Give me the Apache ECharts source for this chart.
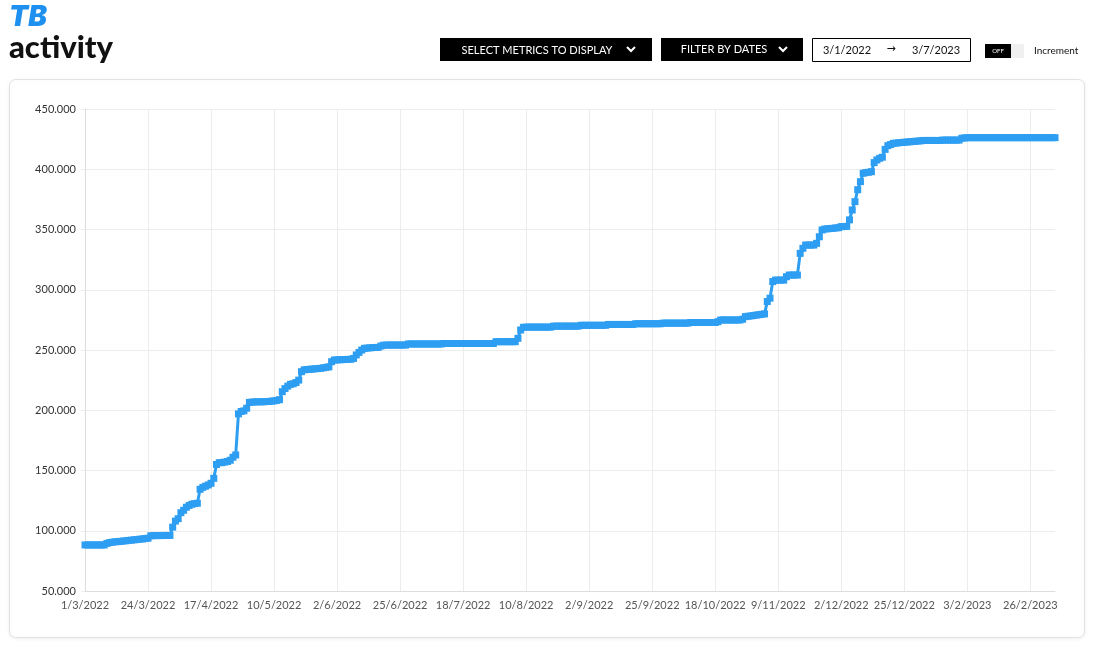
<!DOCTYPE html>
<html>
<head>
<meta charset="utf-8">
<script src="https://cdn.jsdelivr.net/npm/echarts@6/dist/echarts.min.js"></script>
<style>
html,body{margin:0;padding:0;background:#fff;}
#c{width:1094px;height:648px;}
</style>
</head>
<body>
<div id="c"></div>
<script>
// ---- DATA ----
// Category dates (D/M/YYYY): daily from 1/3/2022 to 7/3/2023, as exported by the source
const startDate = [2022, 3, 1];
const endDate = [2023, 3, 7];
const skippedDates = ['27/3/2022','1/1/2023','2/1/2023','3/1/2023','4/1/2023','5/1/2023','6/1/2023','7/1/2023','8/1/2023','9/1/2023','10/1/2023','11/1/2023','12/1/2023','13/1/2023','14/1/2023','15/1/2023','16/1/2023','17/1/2023'];
const repeatedDates = ['30/10/2022'];

const tickLabels = ['1/3/2022','24/3/2022','17/4/2022','10/5/2022','2/6/2022','25/6/2022','18/7/2022','10/8/2022','2/9/2022','25/9/2022','18/10/2022','9/11/2022','2/12/2022','25/12/2022','3/2/2023','26/2/2023'];

const activity = [
88200,88200,88200,88200,88200,88200,88200,88200,
89500,90200,90500,
90800,91000,91200,91500,91700,92000,92200,92500,92700,93000,93200,93500,93800,
95800,95900,96000,96000,96000,96100,96100,96100,
103000,108000,110000,115000,117000,119500,121000,122000,122500,122800,
134400,136000,137000,138000,139400,143500,155000,156500,156500,157000,157500,158500,161000,162900,
197000,199000,199500,201700,206500,206800,206900,207000,207000,207000,207200,207300,207500,
207800,208200,208800,215400,218000,220000,221500,222000,223000,225000,232000,233500,
233800,234000,234200,234400,234600,234800,235200,235600,236000,
240300,241700,241800,241900,242000,242100,242200,242300,243000,
245900,248000,250000,251400,251600,251800,252000,252100,252200,253300,254000,
254100,254100,254100,254100,254100,254100,254100,254100,
255000,255000,255000,255000,255000,255000,255000,255000,255000,255000,255000,255000,255000,
255400,255400,255400,255400,255400,255400,255400,255400,255400,255400,255400,255400,255400,255400,255400,255400,255400,255400,255400,
256900,256900,256900,256900,256900,256900,256900,256900,
259700,266600,268800,
269000,269000,269000,269000,269000,269000,269000,269000,269000,269000,
269800,269800,269800,269800,269800,269800,269800,269800,269800,269800,
270500,270500,270500,270500,270500,270500,270500,270500,270500,270500,
271200,271200,271200,271200,271200,271200,271200,271200,271200,271200,
271800,271800,271800,271800,271800,271800,271800,271800,271800,271800,
272300,272300,272300,272300,272300,272300,272300,272300,272300,272300,
272800,272800,272800,272800,272800,272800,272800,272800,272800,272800,
273500,
274900,274900,274900,274900,274900,274900,274900,274900,
275500,277700,278000,278300,278600,279000,279300,279600,280000,
290200,293000,306800,
308000,308000,308000,308000,
310800,
312200,312200,312200,312200,
330200,334400,337100,337100,337100,337100,338500,344000,349600,
350400,350600,350800,351000,351300,351500,352400,352400,352600,
358000,366200,373100,383000,389700,396700,397200,397500,398000,
405500,407700,409100,410000,416500,419600,420500,
421500,421700,422000,422200,422400,422600,422800,423000,423200,423400,423600,
423900,423900,423900,423900,423900,423900,423900,
424200,424200,424200,424200,424200,424200,424200,
425700,426000,
426200,426200,426200,426200,426200,426200,426200,426200,426200,426200,426200,
426200,426200,426200,426200,426200,426200,426200,426200,426200,426200,426200,
426200,426200,426200,426200,426200,426200,426200,426200,426200,426200,426200
];

const yTicks = {min: 50000, max: 450000, interval: 50000};

// ---- build categories ----
function fmt(d){return d.getUTCDate()+'/'+(d.getUTCMonth()+1)+'/'+d.getUTCFullYear();}
const categories = [];
{
  let d = new Date(Date.UTC(startDate[0], startDate[1]-1, startDate[2]));
  const end = new Date(Date.UTC(endDate[0], endDate[1]-1, endDate[2]));
  while (d <= end) {
    const s = fmt(d);
    if (skippedDates.indexOf(s) < 0) {
      categories.push(s);
      if (repeatedDates.indexOf(s) >= 0) categories.push(s);
    }
    d = new Date(d.getTime() + 86400000);
  }
}

function thousands(v){return String(v).replace(/\B(?=(\d{3})+(?!\d))/g,'.');}

const chart = echarts.init(document.getElementById('c'), null, {renderer:'canvas'});
const BLUE = '#2d9ef2';
const F = 'Lato, "Open Sans", sans-serif';

function chevron(x, y){
  return {type:'polyline', shape:{points:[[x-4,y-2],[x,y+2],[x+4,y-2]]}, style:{stroke:'#fff', lineWidth:2, fill:null}, z:5};
}

chart.setOption({
  animation:false,
  backgroundColor:'#fff',
  graphic:[
    {type:'rect', z:-10, shape:{x:9.5,y:79.5,width:1075,height:558,r:6}, style:{fill:'#fff', stroke:'#e2e2e2', lineWidth:1, shadowBlur:4, shadowColor:'rgba(0,0,0,0.06)', shadowOffsetY:1}},
    {type:'text', z:5, x:9, y:4, style:{text:'TB', font:'italic 900 28px Inter, Lato, sans-serif', fill:'#1e90f0'}},
    {type:'text', z:5, x:9, y:32, style:{text:'activity', font:'900 31px Lato, sans-serif', fill:'#111'}},
    {type:'rect', z:4, shape:{x:440,y:38,width:212,height:23}, style:{fill:'#000'}},
    {type:'text', z:5, x:537, y:50, style:{text:'SELECT METRICS TO DISPLAY', font:'11px '+F, fill:'#fff', align:'center', verticalAlign:'middle'}},
    chevron(631, 49),
    {type:'rect', z:4, shape:{x:661,y:38,width:142,height:23}, style:{fill:'#000'}},
    {type:'text', z:5, x:724, y:49, style:{text:'FILTER BY DATES', font:'11px '+F, fill:'#fff', align:'center', verticalAlign:'middle'}},
    chevron(783, 49),
    {type:'rect', z:4, shape:{x:812.5,y:38.5,width:158,height:23}, style:{fill:'#fff', stroke:'#000', lineWidth:1}},
    {type:'text', z:5, x:847, y:50, style:{text:'3/1/2022', font:'11px '+F, fill:'#111', align:'center', verticalAlign:'middle'}},
    {type:'text', z:5, x:891, y:49, style:{text:'→', font:'11px "DejaVu Sans", sans-serif', fill:'#111', align:'center', verticalAlign:'middle'}},
    {type:'text', z:5, x:936, y:50, style:{text:'3/7/2023', font:'11px '+F, fill:'#111', align:'center', verticalAlign:'middle'}},
    {type:'rect', z:4, shape:{x:985,y:44,width:26,height:14}, style:{fill:'#000'}},
    {type:'rect', z:4, shape:{x:1011,y:44,width:13,height:14}, style:{fill:'#f0f0f0'}},
    {type:'text', z:5, x:998, y:51, style:{text:'OFF', font:'6px '+F, fill:'#fff', align:'center', verticalAlign:'middle'}},
    {type:'text', z:5, x:1034, y:51, style:{text:'Increment', font:'10px '+F, fill:'#111', align:'left', verticalAlign:'middle'}}
  ],
  grid:{left:85, right:39, top:109, bottom:57, containLabel:false},
  xAxis:{
    type:'category',
    data:categories,
    boundaryGap:false,
    axisLine:{lineStyle:{color:'#dddddd'}},
    axisTick:{show:false},
    axisLabel:{interval:22, color:'#555', fontSize:11, fontFamily:F, margin:9},
    splitLine:{show:true, interval:22, lineStyle:{color:'#ececec'}}
  },
  yAxis:{
    type:'value',
    min:yTicks.min, max:yTicks.max, interval:yTicks.interval,
    axisLine:{show:true, lineStyle:{color:'#dddddd'}},
    axisTick:{show:true, length:4, lineStyle:{color:'#eeeeee'}},
    axisLabel:{color:'#333', fontSize:11, fontFamily:F, margin:9, formatter:thousands},
    splitLine:{lineStyle:{color:'#ececec'}}
  },
  series:[{
    type:'line',
    data:activity,
    symbol:'rect',
    symbolSize:7,
    showAllSymbol:true,
    lineStyle:{color:BLUE, width:3},
    itemStyle:{color:BLUE},
    z:3
  }]
});
</script>
</body>
</html>
